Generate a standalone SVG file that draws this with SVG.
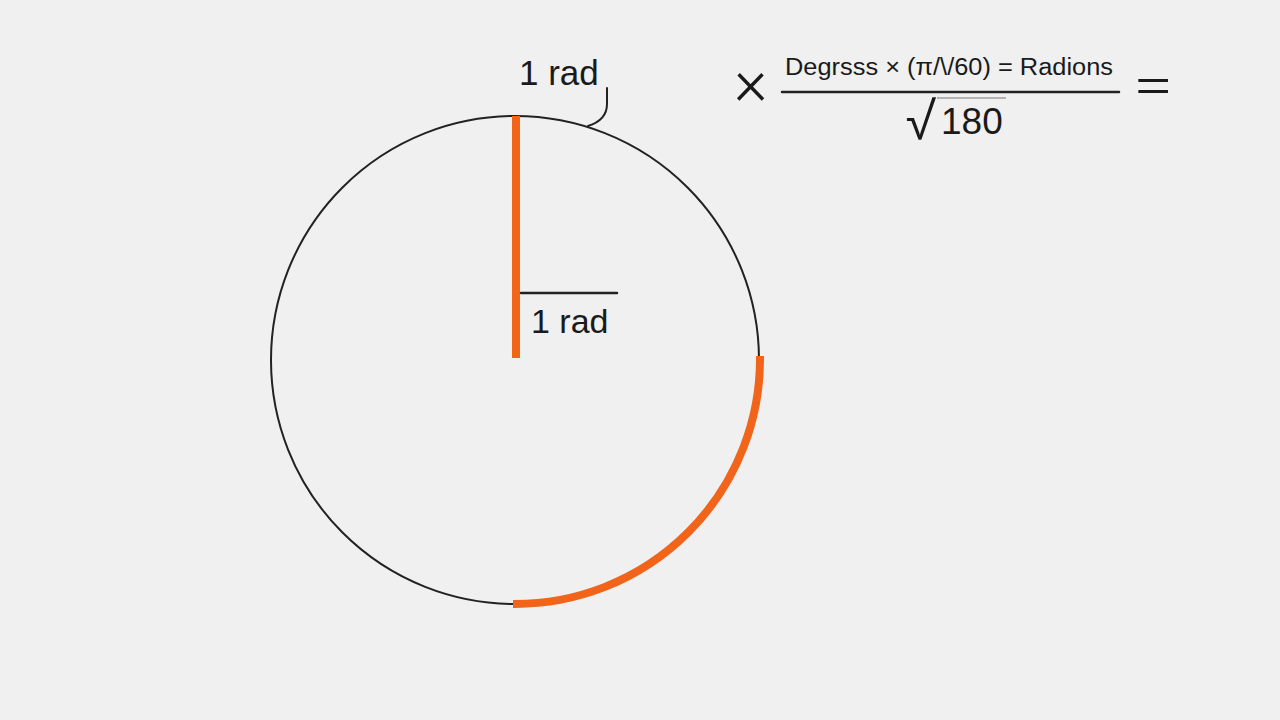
<svg xmlns="http://www.w3.org/2000/svg" width="1280" height="720" viewBox="0 0 1280 720">
<style>
.t{font-family:"Liberation Sans",Arial,sans-serif;fill:#1a1a1a}
.sym{font-family:Roboto,"Liberation Sans",sans-serif;font-weight:300;fill:#1a1a1a}
.ln{stroke:#222;fill:none;stroke-linecap:round}
.or{stroke:#f26419;fill:none;stroke-width:8}
</style>
<rect width="1280" height="720" fill="#f0f0f0"/>
<g id="circle">
<circle cx="515" cy="360" r="244" class="ln" stroke-width="2"/>
</g>
<g id="radius">
<line x1="516" y1="116" x2="516" y2="358" class="or"/>
</g>
<g id="arc">
<path d="M760,356 A245,245 0 0 1 513,604" class="or"/>
</g>
<g id="label-top">
<text x="519" y="85" class="t" font-size="35">1 rad</text>
<path d="M607,88 L607,104 Q607,120 588,126" class="ln" stroke-width="2"/>
</g>
<g id="label-radius">
<line x1="521" y1="293" x2="617" y2="293" class="ln" stroke-width="2.5"/>
<text x="531" y="333" class="t" font-size="34">1 rad</text>
</g>
<g id="formula">
<text x="734" y="104" class="sym" font-size="64">×</text>
<text x="785" y="75" class="t" font-size="23" textLength="328" lengthAdjust="spacingAndGlyphs">Degrsss × (π/\/60) = Radions</text>
<line x1="782" y1="92" x2="1119" y2="92" class="ln" stroke-width="2.5"/>
<text x="905" y="140" class="sym" font-size="60">√</text>
<text x="941" y="134" class="t" font-size="37">180</text>
<line x1="937" y1="98" x2="1006" y2="98" stroke="#777" stroke-width="1.2"/>
<text transform="translate(1133,104) scale(1.3,1)" class="sym" font-size="56">=</text>
</g>
</svg>
